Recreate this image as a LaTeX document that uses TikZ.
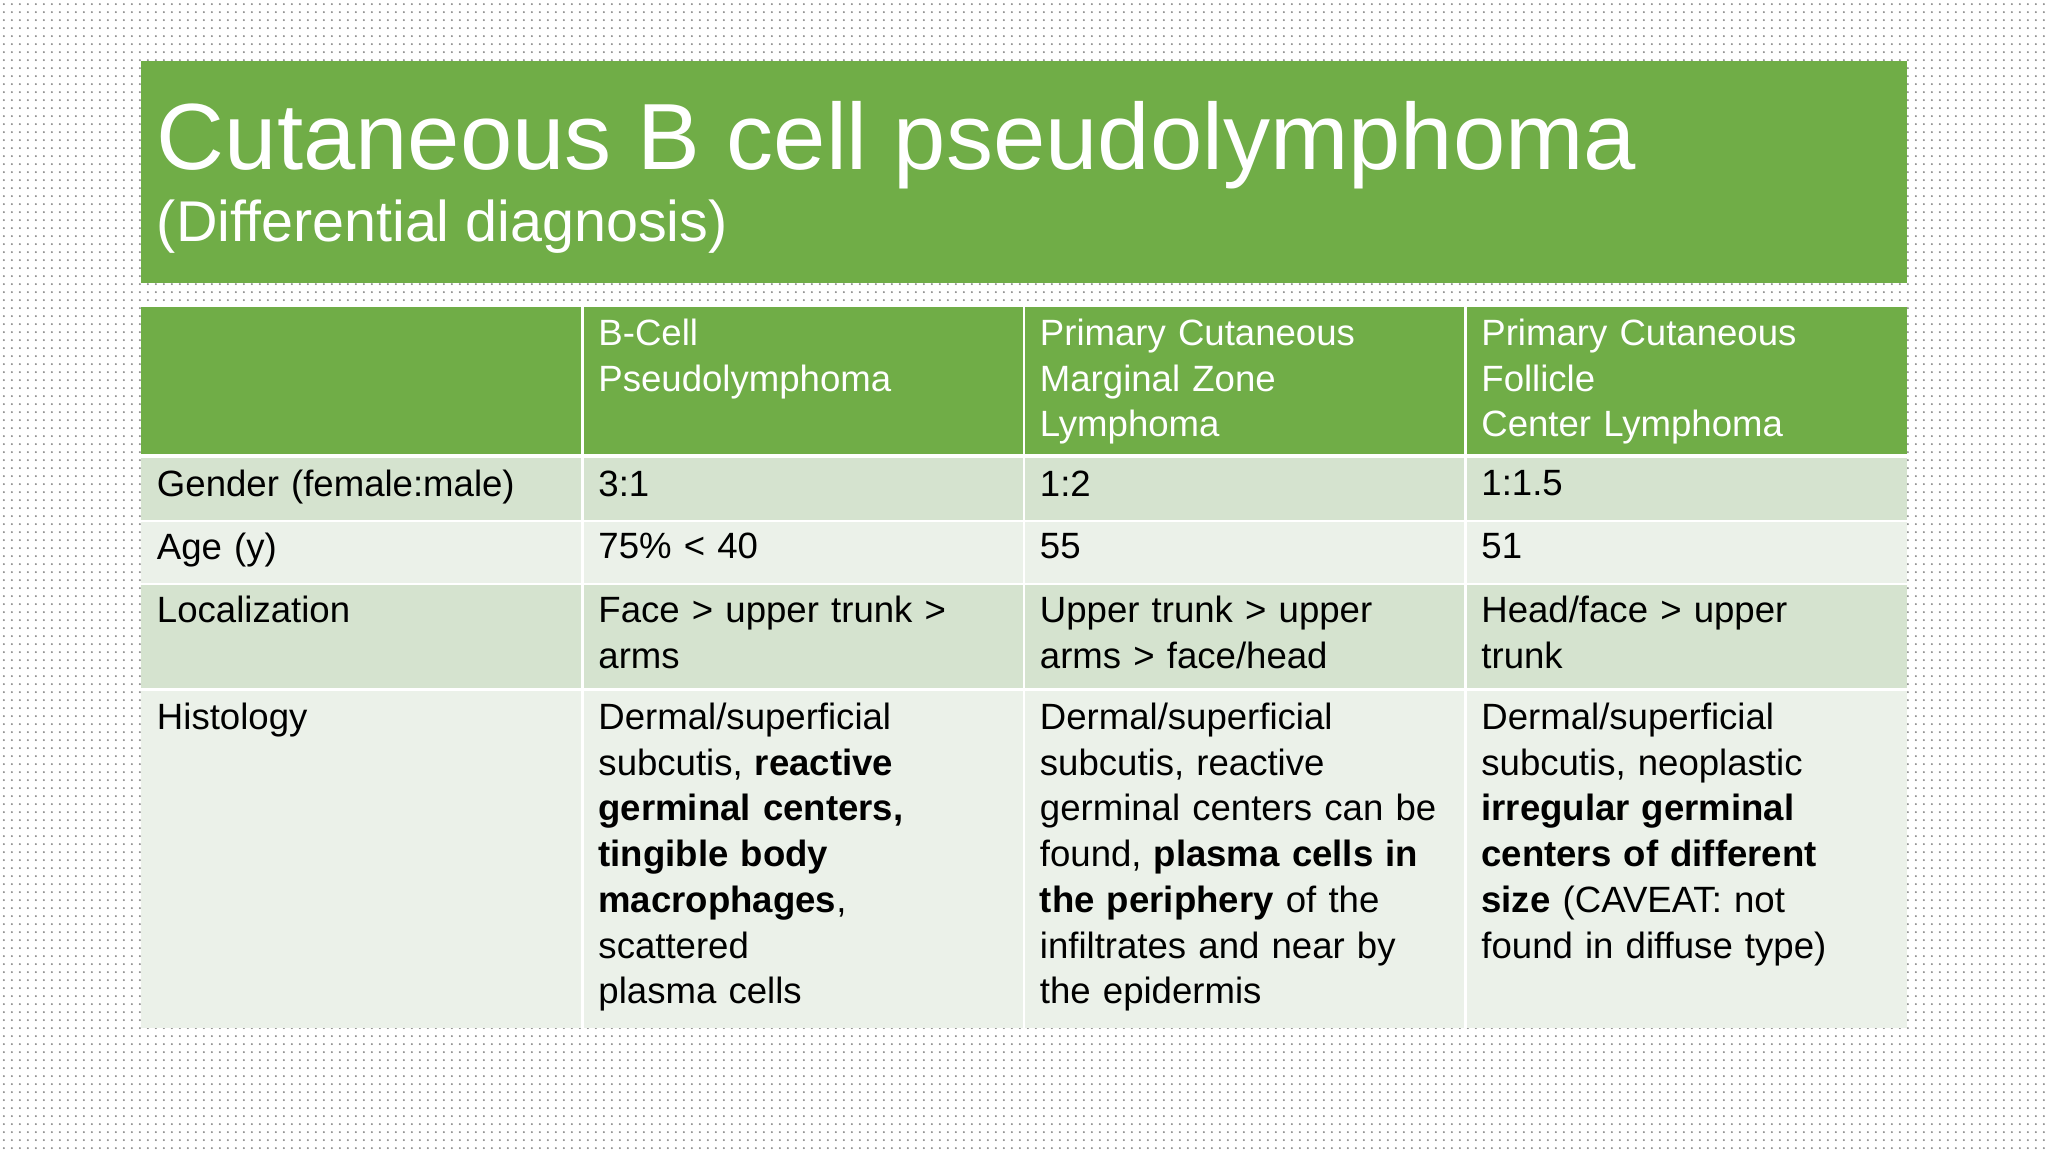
\documentclass[tikz,border=0pt]{standalone}
\usepackage{fontspec}
\setmainfont{Liberation Sans}
\usetikzlibrary{patterns.meta}
\definecolor{hdr}{HTML}{70AD47}
\definecolor{rowd}{HTML}{D5E3CF}
\definecolor{rowl}{HTML}{EBF1E9}
\tikzdeclarepattern{name=mydots,type=uncolored,bounding box={(0pt,0pt) and (6pt,6pt)},tile size={(6pt,6pt)},code={\fill (3pt,3pt) circle (0.85pt);}}
\tikzset{
 cell/.style={anchor=north west,inner sep=0pt,align=left,text width=318pt,font=\fontsize{28}{35}\selectfont},
 hcell/.style={cell,text=white},
 sep/.style={white,line width=2pt}
}
\begin{document}
\begin{tikzpicture}[x=1pt,y=-1pt]
\useasboundingbox (0,0) rectangle (1568,882);
\fill[white] (0,0) rectangle (1568,882);
\fill[pattern={mydots},pattern color=black!45] (0,0) rectangle (1568,882);
% title
\fill[hdr] (108,47) rectangle (1460,217);
\node[anchor=base west,inner sep=0pt,text=white,font=\fontsize{72}{80}\selectfont] (t1) at (120,130) {Cutaneous B cell pseudolymphoma};
\node[anchor=base west,inner sep=0pt,text=white,font=\fontsize{44}{50}\selectfont] (t2) at (120,185) {(Differential diagnosis)};
% table backgrounds
\fill[hdr] (108,235) rectangle (1460,349);
\fill[rowd] (108,349) rectangle (1460,399);
\fill[rowl] (108,399) rectangle (1460,447);
\fill[rowd] (108,447) rectangle (1460,528);
\fill[rowl] (108,528) rectangle (1460,787);
\foreach \y in {399,447,528} \draw[sep] (108,\y) -- (1460,\y);
\draw[white,line width=3.5pt] (108,349) -- (1460,349);
\foreach \x in {446,784,1122} \draw[sep] (\x,235) -- (\x,787);
% header
\node[hcell] (h1) at (458,244) {B-Cell\\Pseudolymphoma};
\node[hcell] (h2) at (796,244) {Primary Cutaneous\\Marginal Zone\\Lymphoma};
\node[hcell] (h3) at (1134,244) {Primary Cutaneous\\Follicle\\Center Lymphoma};
% rows
\node[cell] (g0) at (120,360) {Gender (female:male)};
\node[cell] (g1) at (458,360) {3:1};
\node[cell] (g2) at (796,360) {1:2};
\node[cell] (g3) at (1134,360) {1:1.5};
\node[cell] (a0) at (120,408) {Age (y)};
\node[cell] (a1) at (458,408) {75\% < 40};
\node[cell] (a2) at (796,408) {55};
\node[cell] (a3) at (1134,408) {51};
\node[cell] (l0) at (120,456) {Localization};
\node[cell] (l1) at (458,456) {Face > upper trunk >\\arms};
\node[cell] (l2) at (796,456) {Upper trunk > upper\\arms > face/head};
\node[cell] (l3) at (1134,456) {Head/face > upper\\trunk};
\node[cell] (s0) at (120,538) {Histology};
\node[cell] (s1) at (458,538) {Dermal/superficial\\subcutis, \textbf{reactive}\\\textbf{germinal centers,}\\\textbf{tingible body}\\\textbf{macrophages},\\scattered\\plasma cells};
\node[cell] (s2) at (796,538) {Dermal/superficial\\subcutis, reactive\\germinal centers can be\\found, \textbf{plasma cells in}\\\textbf{the periphery} of the\\infiltrates and near by\\the epidermis};
\node[cell] (s3) at (1134,538) {Dermal/superficial\\subcutis, neoplastic\\\textbf{irregular germinal}\\\textbf{centers of different}\\\textbf{size} (CAVEAT: not\\found in diffuse type)};
\end{tikzpicture}
\end{document}
